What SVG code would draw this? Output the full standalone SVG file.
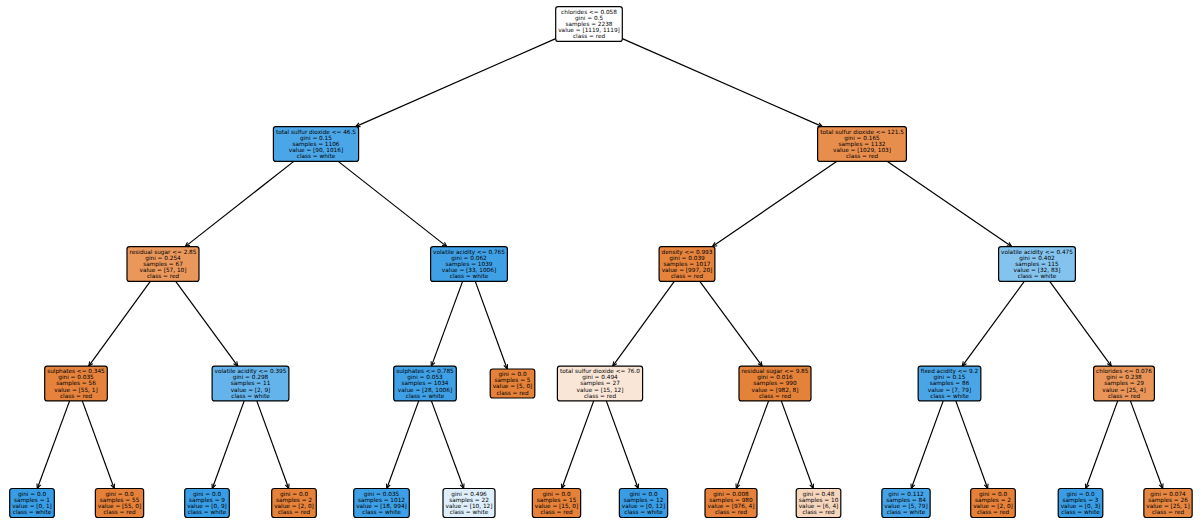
<svg xmlns="http://www.w3.org/2000/svg" width="1200" height="524" viewBox="0 0 1200 524">
<style>
.t{font-family:"DejaVu Sans","Liberation Sans",sans-serif;font-size:5.75px;text-anchor:middle;fill:#000}
.b{stroke:#000;stroke-width:1.2}
.e{stroke:#000;stroke-width:1.2;fill:none;marker-end:url(#ah)}
</style>
<defs>
<marker id="ah" markerUnits="userSpaceOnUse" markerWidth="8" markerHeight="8" viewBox="0 0 8 8" refX="6" refY="4" orient="auto">
<path d="M1.5,2 L6,4 L1.5,6" fill="none" stroke="#000" stroke-width="1.1"/>
</marker>
</defs>
<rect width="1200" height="524" fill="#fff"/>
<g id="connectors">
<line class="e" x1="555.7" y1="38.6" x2="355.6" y2="126.6"/>
<line class="e" x1="622.3" y1="38.6" x2="822.4" y2="126.6"/>
<line class="e" x1="293.8" y1="161.4" x2="185.2" y2="246.6"/>
<line class="e" x1="338.2" y1="161.4" x2="446.8" y2="246.6"/>
<line class="e" x1="836.6" y1="161.4" x2="712.4" y2="246.6"/>
<line class="e" x1="887.4" y1="161.4" x2="1011.6" y2="246.6"/>
<line class="e" x1="150.3" y1="281.4" x2="88.7" y2="366.1"/>
<line class="e" x1="175.7" y1="281.4" x2="237.8" y2="366.1"/>
<line class="e" x1="462.6" y1="281.4" x2="431.4" y2="366.1"/>
<line class="e" x1="475.3" y1="281.4" x2="507.2" y2="369"/>
<line class="e" x1="674.3" y1="281.4" x2="612.7" y2="366.1"/>
<line class="e" x1="699.8" y1="281.4" x2="762.2" y2="366.1"/>
<line class="e" x1="1024.3" y1="281.4" x2="962.2" y2="366.1"/>
<line class="e" x1="1049.7" y1="281.4" x2="1111.3" y2="366.1"/>
<line class="e" x1="69.6" y1="400.9" x2="37.3" y2="488.5"/>
<line class="e" x1="82.3" y1="400.9" x2="114.2" y2="488.5"/>
<line class="e" x1="244.2" y1="400.9" x2="212.3" y2="488.5"/>
<line class="e" x1="256.8" y1="400.9" x2="288.7" y2="488.5"/>
<line class="e" x1="418.7" y1="400.9" x2="386.8" y2="488.5"/>
<line class="e" x1="431.4" y1="400.9" x2="463.7" y2="488.5"/>
<line class="e" x1="593.7" y1="400.9" x2="561.8" y2="488.5"/>
<line class="e" x1="606.3" y1="400.9" x2="638.2" y2="488.5"/>
<line class="e" x1="768.6" y1="400.9" x2="736.3" y2="488.5"/>
<line class="e" x1="781.3" y1="400.9" x2="813.2" y2="488.5"/>
<line class="e" x1="943.2" y1="400.9" x2="911.3" y2="488.5"/>
<line class="e" x1="955.8" y1="400.9" x2="987.7" y2="488.5"/>
<line class="e" x1="1117.7" y1="400.9" x2="1085.8" y2="488.5"/>
<line class="e" x1="1130.4" y1="400.9" x2="1162.7" y2="488.5"/>
</g>
<g id="n0"><rect class="b" x="555.7" y="6.6" width="66.6" height="34.8" rx="2.5" fill="#ffffff"/><text class="t" y="13.7"><tspan x="589">chlorides &lt;= 0.058</tspan><tspan x="589" dy="6.1">gini = 0.5</tspan><tspan x="589" dy="6.1">samples = 2238</tspan><tspan x="589" dy="6.1">value = [1119, 1119]</tspan><tspan x="589" dy="6.1">class = red</tspan></text></g>
<g id="n1"><rect class="b" x="273.4" y="126.6" width="85.2" height="34.8" rx="2.5" fill="#4aa6e7"/><text class="t" y="133.7"><tspan x="316">total sulfur dioxide &lt;= 46.5</tspan><tspan x="316" dy="6.1">gini = 0.15</tspan><tspan x="316" dy="6.1">samples = 1106</tspan><tspan x="316" dy="6.1">value = [90, 1016]</tspan><tspan x="316" dy="6.1">class = white</tspan></text></g>
<g id="n2"><rect class="b" x="817.6" y="126.6" width="88.8" height="34.8" rx="2.5" fill="#e88e4d"/><text class="t" y="133.7"><tspan x="862">total sulfur dioxide &lt;= 121.5</tspan><tspan x="862" dy="6.1">gini = 0.165</tspan><tspan x="862" dy="6.1">samples = 1132</tspan><tspan x="862" dy="6.1">value = [1029, 103]</tspan><tspan x="862" dy="6.1">class = red</tspan></text></g>
<g id="n3"><rect class="b" x="127" y="246.6" width="72" height="34.8" rx="2.5" fill="#ea975c"/><text class="t" y="253.7"><tspan x="163">residual sugar &lt;= 2.85</tspan><tspan x="163" dy="6.1">gini = 0.254</tspan><tspan x="163" dy="6.1">samples = 67</tspan><tspan x="163" dy="6.1">value = [57, 10]</tspan><tspan x="163" dy="6.1">class = red</tspan></text></g>
<g id="n4"><rect class="b" x="430.6" y="246.6" width="76.8" height="34.8" rx="2.5" fill="#40a0e6"/><text class="t" y="253.7"><tspan x="469">volatile acidity &lt;= 0.765</tspan><tspan x="469" dy="6.1">gini = 0.062</tspan><tspan x="469" dy="6.1">samples = 1039</tspan><tspan x="469" dy="6.1">value = [33, 1006]</tspan><tspan x="469" dy="6.1">class = white</tspan></text></g>
<g id="n5"><rect class="b" x="659.1" y="246.6" width="55.8" height="34.8" rx="2.5" fill="#e6843d"/><text class="t" y="253.7"><tspan x="687">density &lt;= 0.993</tspan><tspan x="687" dy="6.1">gini = 0.039</tspan><tspan x="687" dy="6.1">samples = 1017</tspan><tspan x="687" dy="6.1">value = [997, 20]</tspan><tspan x="687" dy="6.1">class = red</tspan></text></g>
<g id="n6"><rect class="b" x="998.6" y="246.6" width="76.8" height="34.8" rx="2.5" fill="#85c3ef"/><text class="t" y="253.7"><tspan x="1037">volatile acidity &lt;= 0.475</tspan><tspan x="1037" dy="6.1">gini = 0.402</tspan><tspan x="1037" dy="6.1">samples = 115</tspan><tspan x="1037" dy="6.1">value = [32, 83]</tspan><tspan x="1037" dy="6.1">class = white</tspan></text></g>
<g id="n7"><rect class="b" x="44.7" y="366.1" width="62.6" height="34.8" rx="2.5" fill="#e5833d"/><text class="t" y="373.2"><tspan x="76">sulphates &lt;= 0.345</tspan><tspan x="76" dy="6.1">gini = 0.035</tspan><tspan x="76" dy="6.1">samples = 56</tspan><tspan x="76" dy="6.1">value = [55, 1]</tspan><tspan x="76" dy="6.1">class = red</tspan></text></g>
<g id="n8"><rect class="b" x="212.1" y="366.1" width="76.8" height="34.8" rx="2.5" fill="#65b3eb"/><text class="t" y="373.2"><tspan x="250.5">volatile acidity &lt;= 0.395</tspan><tspan x="250.5" dy="6.1">gini = 0.298</tspan><tspan x="250.5" dy="6.1">samples = 11</tspan><tspan x="250.5" dy="6.1">value = [2, 9]</tspan><tspan x="250.5" dy="6.1">class = white</tspan></text></g>
<g id="n9"><rect class="b" x="393.7" y="366.1" width="62.6" height="34.8" rx="2.5" fill="#3fa0e6"/><text class="t" y="373.2"><tspan x="425">sulphates &lt;= 0.785</tspan><tspan x="425" dy="6.1">gini = 0.053</tspan><tspan x="425" dy="6.1">samples = 1034</tspan><tspan x="425" dy="6.1">value = [28, 1006]</tspan><tspan x="425" dy="6.1">class = white</tspan></text></g>
<g id="n10"><rect class="b" x="490.2" y="369" width="44.6" height="29" rx="2.5" fill="#e58139"/><text class="t" y="376.25"><tspan x="512.5">gini = 0.0</tspan><tspan x="512.5" dy="6.1">samples = 5</tspan><tspan x="512.5" dy="6.1">value = [5, 0]</tspan><tspan x="512.5" dy="6.1">class = red</tspan></text></g>
<g id="n11"><rect class="b" x="557.4" y="366.1" width="85.2" height="34.8" rx="2.5" fill="#fae6d7"/><text class="t" y="373.2"><tspan x="600">total sulfur dioxide &lt;= 76.0</tspan><tspan x="600" dy="6.1">gini = 0.494</tspan><tspan x="600" dy="6.1">samples = 27</tspan><tspan x="600" dy="6.1">value = [15, 12]</tspan><tspan x="600" dy="6.1">class = red</tspan></text></g>
<g id="n12"><rect class="b" x="739" y="366.1" width="72" height="34.8" rx="2.5" fill="#e5823a"/><text class="t" y="373.2"><tspan x="775">residual sugar &lt;= 9.85</tspan><tspan x="775" dy="6.1">gini = 0.016</tspan><tspan x="775" dy="6.1">samples = 990</tspan><tspan x="775" dy="6.1">value = [982, 8]</tspan><tspan x="775" dy="6.1">class = red</tspan></text></g>
<g id="n13"><rect class="b" x="918.15" y="366.1" width="62.7" height="34.8" rx="2.5" fill="#4aa5e7"/><text class="t" y="373.2"><tspan x="949.5">fixed acidity &lt;= 9.2</tspan><tspan x="949.5" dy="6.1">gini = 0.15</tspan><tspan x="949.5" dy="6.1">samples = 86</tspan><tspan x="949.5" dy="6.1">value = [7, 79]</tspan><tspan x="949.5" dy="6.1">class = white</tspan></text></g>
<g id="n14"><rect class="b" x="1093.6" y="366.1" width="60.8" height="34.8" rx="2.5" fill="#e99559"/><text class="t" y="373.2"><tspan x="1124">chlorides &lt;= 0.076</tspan><tspan x="1124" dy="6.1">gini = 0.238</tspan><tspan x="1124" dy="6.1">samples = 29</tspan><tspan x="1124" dy="6.1">value = [25, 4]</tspan><tspan x="1124" dy="6.1">class = red</tspan></text></g>
<g id="l1"><rect class="b" x="9.7" y="488.5" width="44.6" height="29" rx="2.5" fill="#399de5"/><text class="t" y="495.75"><tspan x="32">gini = 0.0</tspan><tspan x="32" dy="6.1">samples = 1</tspan><tspan x="32" dy="6.1">value = [0, 1]</tspan><tspan x="32" dy="6.1">class = white</tspan></text></g>
<g id="l2"><rect class="b" x="95.35" y="488.5" width="48.3" height="29" rx="2.5" fill="#e58139"/><text class="t" y="495.75"><tspan x="119.5">gini = 0.0</tspan><tspan x="119.5" dy="6.1">samples = 55</tspan><tspan x="119.5" dy="6.1">value = [55, 0]</tspan><tspan x="119.5" dy="6.1">class = red</tspan></text></g>
<g id="l3"><rect class="b" x="184.7" y="488.5" width="44.6" height="29" rx="2.5" fill="#399de5"/><text class="t" y="495.75"><tspan x="207">gini = 0.0</tspan><tspan x="207" dy="6.1">samples = 9</tspan><tspan x="207" dy="6.1">value = [0, 9]</tspan><tspan x="207" dy="6.1">class = white</tspan></text></g>
<g id="l4"><rect class="b" x="271.7" y="488.5" width="44.6" height="29" rx="2.5" fill="#e58139"/><text class="t" y="495.75"><tspan x="294">gini = 0.0</tspan><tspan x="294" dy="6.1">samples = 2</tspan><tspan x="294" dy="6.1">value = [2, 0]</tspan><tspan x="294" dy="6.1">class = red</tspan></text></g>
<g id="l5"><rect class="b" x="353.7" y="488.5" width="55.6" height="29" rx="2.5" fill="#3d9fe5"/><text class="t" y="495.75"><tspan x="381.5">gini = 0.035</tspan><tspan x="381.5" dy="6.1">samples = 1012</tspan><tspan x="381.5" dy="6.1">value = [18, 994]</tspan><tspan x="381.5" dy="6.1">class = white</tspan></text></g>
<g id="l6"><rect class="b" x="443" y="488.5" width="52" height="29" rx="2.5" fill="#deeffb"/><text class="t" y="495.75"><tspan x="469">gini = 0.496</tspan><tspan x="469" dy="6.1">samples = 22</tspan><tspan x="469" dy="6.1">value = [10, 12]</tspan><tspan x="469" dy="6.1">class = white</tspan></text></g>
<g id="l7"><rect class="b" x="532.35" y="488.5" width="48.3" height="29" rx="2.5" fill="#e58139"/><text class="t" y="495.75"><tspan x="556.5">gini = 0.0</tspan><tspan x="556.5" dy="6.1">samples = 15</tspan><tspan x="556.5" dy="6.1">value = [15, 0]</tspan><tspan x="556.5" dy="6.1">class = red</tspan></text></g>
<g id="l8"><rect class="b" x="619.35" y="488.5" width="48.3" height="29" rx="2.5" fill="#399de5"/><text class="t" y="495.75"><tspan x="643.5">gini = 0.0</tspan><tspan x="643.5" dy="6.1">samples = 12</tspan><tspan x="643.5" dy="6.1">value = [0, 12]</tspan><tspan x="643.5" dy="6.1">class = white</tspan></text></g>
<g id="l9"><rect class="b" x="705" y="488.5" width="52" height="29" rx="2.5" fill="#e5813a"/><text class="t" y="495.75"><tspan x="731">gini = 0.008</tspan><tspan x="731" dy="6.1">samples = 980</tspan><tspan x="731" dy="6.1">value = [976, 4]</tspan><tspan x="731" dy="6.1">class = red</tspan></text></g>
<g id="l10"><rect class="b" x="796.2" y="488.5" width="44.6" height="29" rx="2.5" fill="#f6d5bd"/><text class="t" y="495.75"><tspan x="818.5">gini = 0.48</tspan><tspan x="818.5" dy="6.1">samples = 10</tspan><tspan x="818.5" dy="6.1">value = [6, 4]</tspan><tspan x="818.5" dy="6.1">class = red</tspan></text></g>
<g id="l11"><rect class="b" x="881.85" y="488.5" width="48.3" height="29" rx="2.5" fill="#45a3e7"/><text class="t" y="495.75"><tspan x="906">gini = 0.112</tspan><tspan x="906" dy="6.1">samples = 84</tspan><tspan x="906" dy="6.1">value = [5, 79]</tspan><tspan x="906" dy="6.1">class = white</tspan></text></g>
<g id="l12"><rect class="b" x="970.7" y="488.5" width="44.6" height="29" rx="2.5" fill="#e58139"/><text class="t" y="495.75"><tspan x="993">gini = 0.0</tspan><tspan x="993" dy="6.1">samples = 2</tspan><tspan x="993" dy="6.1">value = [2, 0]</tspan><tspan x="993" dy="6.1">class = red</tspan></text></g>
<g id="l13"><rect class="b" x="1058.2" y="488.5" width="44.6" height="29" rx="2.5" fill="#399de5"/><text class="t" y="495.75"><tspan x="1080.5">gini = 0.0</tspan><tspan x="1080.5" dy="6.1">samples = 3</tspan><tspan x="1080.5" dy="6.1">value = [0, 3]</tspan><tspan x="1080.5" dy="6.1">class = white</tspan></text></g>
<g id="l14"><rect class="b" x="1143.85" y="488.5" width="48.3" height="29" rx="2.5" fill="#e68641"/><text class="t" y="495.75"><tspan x="1168">gini = 0.074</tspan><tspan x="1168" dy="6.1">samples = 26</tspan><tspan x="1168" dy="6.1">value = [25, 1]</tspan><tspan x="1168" dy="6.1">class = red</tspan></text></g>
</svg>
